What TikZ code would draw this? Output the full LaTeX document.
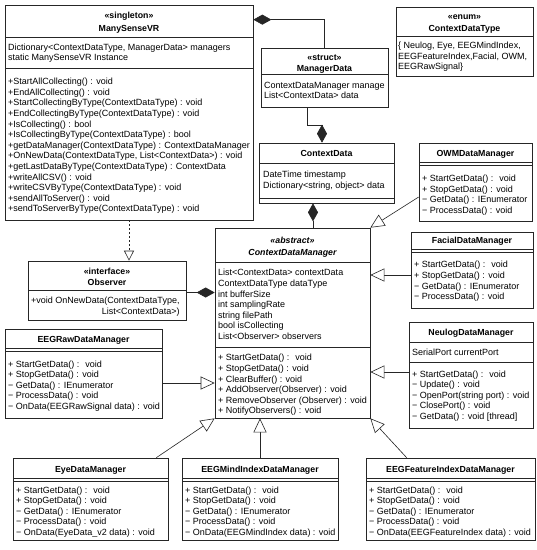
\documentclass[tikz,border=0pt]{standalone}
\usepackage{fontspec}
\setmainfont{Liberation Sans}
\usetikzlibrary{arrows.meta,fit,calc}
\begin{document}
\begin{tikzpicture}[x=1pt,y=-1pt,
  box/.style={draw=black!85, line width=0.7pt, inner sep=0pt, fill=white},
  divl/.style={draw=black!85, line width=0.7pt},
  body/.style={font=\fontsize{9}{10.6}\selectfont, inner sep=0pt, align=left, anchor=west},
  head/.style={font=\fontsize{8.8}{10}\selectfont\bfseries, inner sep=0pt, anchor=base},
  headit/.style={font=\fontsize{8.8}{10}\selectfont\bfseries\itshape, inner sep=0pt, anchor=base},
  conn/.style={draw=black!85, line width=0.6pt},
  compend/.style={conn, -{Diamond[length=18pt,width=10pt]}},
  compstart/.style={conn, {Diamond[length=18pt,width=10pt]}-},
  gen/.style={conn, -{Triangle[open,length=14pt,width=13pt,fill=white]}},
  real/.style={conn, dash pattern=on 2pt off 2pt, -{Triangle[open,length=10pt,width=10pt,fill=white]}},
]
\fill[white] (0,0) rectangle (537,550);
\useasboundingbox (0,0) rectangle (537,550);

% ---------- ManySenseVR
\node[box, fit={(5,5)(253,220)}] (msvr) {};
\draw[divl] (5,37) -- (253,37);
\draw[divl] (5,68) -- (253,68);
\node[head] (msvr-s) at (129,18.2) {«singleton»};
\node[head] (msvr-t) at (129,31.2) {ManySenseVR};
\node[body] (msvr-a) at (8,53) {Dictionary<ContextDataType, ManagerData> managers\\static ManySenseVR Instance};
\node[body] (msvr-o) at (8,146) {+StartAllCollecting() : void\\
+EndAllCollecting() : void\\
+StartCollectingByType(ContextDataType) : void\\
+EndCollectingByType(ContextDataType) : void\\
+IsCollecting() : bool\\
+IsCollectingByType(ContextDataType) : bool\\
+getDataManager(ContextDataType) : ContextDataManager\\
+OnNewData(ContextDataType, List<ContextData>) : void\\
+getLastDataByType(ContextDataType) : ContextData\\
+writeAllCSV() : void\\
+writeCSVByType(ContextDataType) : void\\
+sendAllToServer() : void\\
+sendToServerByType(ContextDataType) : void};

% ---------- ManagerData
\node[box, fit={(261,48)(388,107)}] (md) {};
\draw[divl] (261,74) -- (388,74);
\node[head] (md-s) at (324.5,60.2) {«struct»};
\node[head] (md-t) at (324.5,71.2) {ManagerData};
\node[body] (md-a) at (264,90.5) {ContextDataManager manage\\List<ContextData> data};

% ---------- ContextDataType
\node[box, fit={(396,7)(533,76)}] (cdt) {};
\draw[divl] (396,36) -- (533,36);
\node[head] (cdt-s) at (464.5,19.2) {«enum»};
\node[head] (cdt-t) at (464.5,31.2) {ContextDataType};
\node[body] (cdt-a) at (398,57) {\{ Neulog, Eye, EEGMindIndex,\\EEGFeatureIndex,Facial, OWM,\\EEGRawSignal\}};

% ---------- ContextData
\node[box, fit={(259,143)(394,203)}] (cd) {};
\draw[divl] (259,163) -- (394,163);
\draw[divl] (259,198) -- (394,198);
\node[head] (cd-t) at (326.5,156.2) {ContextData};
\node[body] (cd-a) at (263,180.5) {DateTime timestamp\\Dictionary<string, object> data};

% ---------- OWMDataManager
\node[box, fit={(419,143)(532,221)}] (owm) {};
\draw[divl] (419,162) -- (532,162);
\draw[divl] (419,165) -- (532,165);
\node[head] (owm-t) at (475.5,156.2) {OWMDataManager};
\node[body] (owm-o) at (422,195) {+ StartGetData() : \ void\\+ StopGetData() : void\\− GetData() : IEnumerator\\− ProcessData() : void};

% ---------- FacialDataManager
\node[box, fit={(411,232)(533,308)}] (fdm) {};
\draw[divl] (411,249) -- (533,249);
\draw[divl] (411,252) -- (533,252);
\node[head] (fdm-t) at (472,243.2) {FacialDataManager};
\node[body] (fdm-o) at (414,281.5) {+ StartGetData() : \ void\\+ StopGetData() : void\\− GetData() : IEnumerator\\− ProcessData() : void};

% ---------- NeulogDataManager
\node[box, fit={(409,322)(533,428)}] (ndm) {};
\draw[divl] (409,342) -- (533,342);
\draw[divl] (409,362) -- (533,362);
\node[head] (ndm-t) at (471,335.2) {NeulogDataManager};
\node[body] (ndm-a) at (412,352.5) {SerialPort currentPort};
\begin{scope}
\clip (409,362) rectangle (532.6,428);
\node[body] (ndm-o) at (412,396) {+ StartGetData() : \ void\\− Update() : void\\− OpenPort(string port) : void\\− ClosePort() : void\\− GetData() : void [thread]};
\end{scope}

% ---------- Observer
\node[box, fit={(28,261)(186,320)}] (obs) {};
\draw[divl] (28,290) -- (186,290);
\node[head] (obs-s) at (107,274.2) {«interface»};
\node[head] (obs-t) at (107,285.2) {Observer};
\node[body, align=right] (obs-o) at (31,306.5) {+void OnNewData(ContextDataType,\\List<ContextData>)};

% ---------- EEGRawDataManager
\node[box, fit={(5,329)(162,418)}] (erm) {};
\draw[divl] (5,348) -- (162,348);
\draw[divl] (5,351) -- (162,351);
\node[head] (erm-t) at (83.5,342.2) {EEGRawDataManager};
\node[body] (erm-o) at (8,386) {+ StartGetData() : \ void\\+ StopGetData() : void\\− GetData() : IEnumerator\\− ProcessData() : void\\− OnData(EEGRawSignal data) : void};

% ---------- ContextDataManager
\node[box, fit={(215,228)(370,418)}] (cdm) {};
\draw[divl] (215,262) -- (370,262);
\draw[divl] (215,347) -- (370,347);
\node[headit] (cdm-s) at (292.5,243.2) {«abstract»};
\node[headit] (cdm-t) at (292.5,255.2) {ContextDataManager};
\node[body] (cdm-a) at (218,304.5) {List<ContextData> contextData\\ContextDataType dataType\\int bufferSize\\int samplingRate\\string filePath\\bool isCollecting\\List<Observer> observers};
\node[body] (cdm-o) at (218,385) {+ StartGetData() : \ void\\+ StopGetData() : void\\+ ClearBuffer() : void\\+ AddObserver(Observer) : void\\+ RemoveObserver (Observer) : void\\+ NotifyObservers() : void};

% ---------- EyeDataManager
\node[box, fit={(13,458)(168,540)}] (eye) {};
\draw[divl] (13,478) -- (168,478);
\draw[divl] (13,481) -- (168,481);
\node[head] (eye-t) at (90.5,472.2) {EyeDataManager};
\begin{scope}
\clip (13,481) rectangle (167.6,540);
\node[body] (eye-o) at (16,512) {+ StartGetData() : \ void\\+ StopGetData() : void\\− GetData() : IEnumerator\\− ProcessData() : void\\− OnData(EyeData\_v2 data) : void};
\end{scope}

% ---------- EEGMindIndexDataManager
\node[box, fit={(182,458)(338,540)}] (mind) {};
\draw[divl] (182,478) -- (338,478);
\draw[divl] (182,481) -- (338,481);
\node[head] (mind-t) at (260,472.2) {EEGMindIndexDataManager};
\node[body] (mind-o) at (185,512) {+ StartGetData() : \ void\\+ StopGetData() : void\\− GetData() : IEnumerator\\− ProcessData() : void\\− OnData(EEGMindIndex data) : void};

% ---------- EEGFeatureIndexDataManager
\node[box, fit={(366,458)(535,540)}] (feat) {};
\draw[divl] (366,478) -- (535,478);
\draw[divl] (366,481) -- (535,481);
\node[head] (feat-t) at (450.5,472.2) {EEGFeatureIndexDataManager};
\begin{scope}
\clip (366,481) rectangle (534.6,540);
\node[body] (feat-o) at (369,512) {+ StartGetData() : \ void\\+ StopGetData() : void\\− GetData() : IEnumerator\\− ProcessData() : void\\− OnData(EEGFeatureIndex data) : void};
\end{scope}

% ---------- connectors
\draw[compend] (md.north) |- ([yshift=-15pt]msvr.north east);
\coordinate (mdc) at ([xshift=-17.5pt]md.south);
\coordinate (cdn) at ([xshift=-4.5pt]cd.north);
\draw[compend] (mdc) -- ++(0,18) -| (cdn);
\coordinate (cds) at ([xshift=-13.5pt]cd.south);
\draw[compstart] (cds) -- (cds |- cdm.north);
\draw[compend] ([yshift=-2pt]obs.east) -- ([yshift=-2pt]obs.east -| cdm.west);
\draw[real] (msvr.south) -- (msvr.south |- obs.north);
\draw[gen] ([yshift=-15pt]owm.west) -- (cdm.north east);
\draw[gen] ([yshift=-5pt]fdm.west) -- ([yshift=-5pt]fdm.west -| cdm.east);
\draw[gen] ([yshift=3pt]ndm.west) -- ([yshift=3pt]ndm.west -| cdm.east);
\draw[gen] ([yshift=-9.5pt]erm.east) -- ([yshift=-9.5pt]erm.east -| cdm.west);
\draw[gen] ([xshift=-12pt]eye.north east) -- (cdm.south west);
\draw[gen] (mind.north) -- (mind.north |- cdm.south);
\draw[gen] ([xshift=41pt]feat.north west) -- (cdm.south east);
\end{tikzpicture}
\end{document}
